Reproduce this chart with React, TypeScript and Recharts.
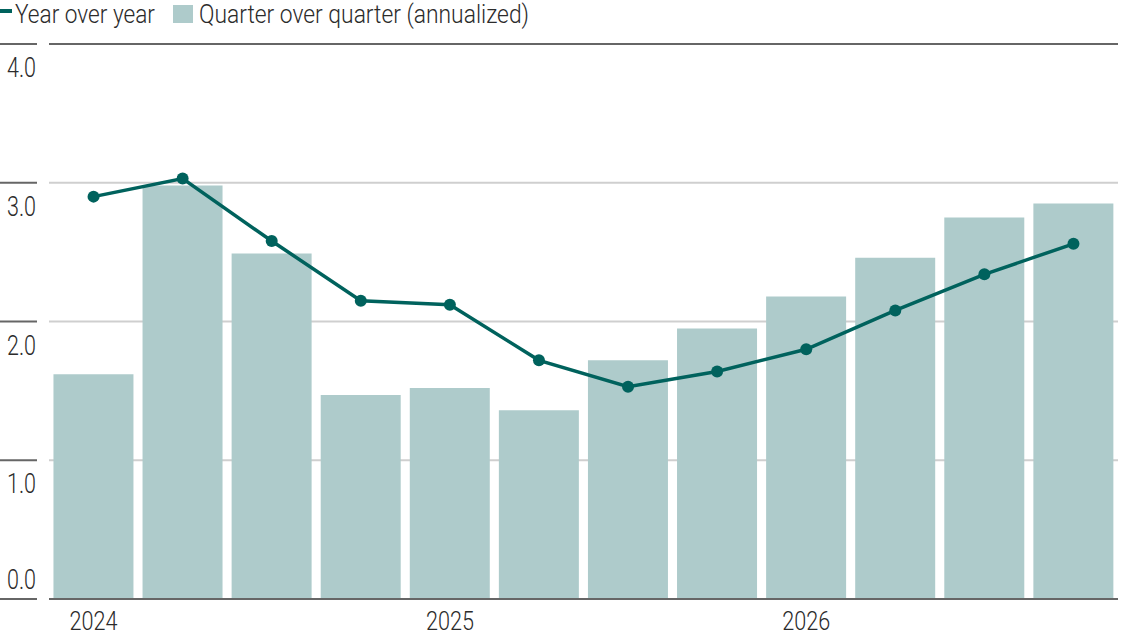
import { Bar, CartesianGrid, ComposedChart, Legend, Line, ReferenceLine, XAxis, YAxis } from "recharts"

const quarters = [
  "2024 Q1", "2024 Q2", "2024 Q3", "2024 Q4",
  "2025 Q1", "2025 Q2", "2025 Q3", "2025 Q4",
  "2026 Q1", "2026 Q2", "2026 Q3", "2026 Q4",
]
const quarterOverQuarter = [1.62, 2.98, 2.49, 1.47, 1.52, 1.36, 1.72, 1.95, 2.18, 2.46, 2.75, 2.85]
const yearOverYear = [2.9, 3.03, 2.58, 2.15, 2.12, 1.72, 1.53, 1.64, 1.8, 2.08, 2.34, 2.56]
const yTicks = [0, 1, 2, 3, 4]

const chartData = quarters.map((q, i) => ({
  quarter: q,
  qoq: quarterOverQuarter[i],
  yoy: yearOverYear[i],
}))

const FONT = "Roboto, sans-serif"
const TEAL = "#00625d"
const BAR = "#aecbcb"
const TEXT = "#2b2b2b"

function YTick(props: any) {
  const { y, payload } = props
  const v = payload.value as number
  return (
    <g>
      <line x1={0} x2={37} y1={y} y2={y} stroke="#666" strokeWidth={2} />
      <text
        x={36}
        y={v === 0 ? y - 10 : y + 33}
        textAnchor="end"
        fontSize={28}
        fontWeight={300}
        fill={TEXT}
        fontFamily={FONT}
        textLength={29}
        lengthAdjust="spacingAndGlyphs"
      >
        {v.toFixed(1)}
      </text>
    </g>
  )
}

// only the first quarter of each year gets a label
function XTick(props: any) {
  const { x, y, payload } = props
  const label = String(payload.value).split(" ")[0]
  if (!String(payload.value).endsWith("Q1")) return null
  return (
    <text
      x={x}
      y={y + 25}
      textAnchor="middle"
      fontSize={26}
      fontWeight={300}
      fill={TEXT}
      fontFamily={FONT}
      textLength={48}
      lengthAdjust="spacingAndGlyphs"
    >
      {label}
    </text>
  )
}

function renderLegend() {
  return (
    <svg width={1130} height={44} style={{ display: "block" }}>
      <line x1={0} x2={12} y1={11} y2={11} stroke={TEAL} strokeWidth={4} />
      <text
        x={15}
        y={23}
        fontSize={26}
        fontWeight={300}
        fill={TEXT}
        fontFamily={FONT}
        textLength={140}
        lengthAdjust="spacingAndGlyphs"
      >
        Year over year
      </text>
      <rect x={173} y={5} width={20} height={18} fill={BAR} />
      <text
        x={199}
        y={23}
        fontSize={26}
        fontWeight={300}
        fill={TEXT}
        fontFamily={FONT}
        textLength={330}
        lengthAdjust="spacingAndGlyphs"
      >
        Quarter over quarter (annualized)
      </text>
    </svg>
  )
}

export default function App() {
  return (
    <div style={{ position: "absolute", left: 0, top: 0 }}>
      <ComposedChart
        width={1130}
        height={635}
        data={chartData}
        margin={{ top: 0, right: 12, left: 0, bottom: 0 }}
        barCategoryGap="5%"
      >
        <Legend
          verticalAlign="top"
          align="left"
          content={renderLegend}
          wrapperStyle={{ top: 0, left: 0, width: 1130, height: 44 }}
        />
        <CartesianGrid vertical={false} stroke="#cfcfcf" strokeWidth={2} />
        <XAxis
          dataKey="quarter"
          interval={0}
          height={36}
          tickLine={false}
          axisLine={{ stroke: "#666", strokeWidth: 2 }}
          tick={<XTick />}
          tickMargin={0}
        />
        <YAxis
          width={49}
          domain={[0, 4]}
          ticks={yTicks}
          axisLine={false}
          tickLine={false}
          tick={<YTick />}
        />
        <ReferenceLine y={4} stroke="#666" strokeWidth={2} />
        <Bar dataKey="qoq" name="Quarter over quarter (annualized)" fill={BAR} isAnimationActive={false} />
        <Line
          dataKey="yoy"
          name="Year over year"
          stroke={TEAL}
          strokeWidth={3.5}
          dot={{ r: 6, fill: TEAL, stroke: TEAL, strokeWidth: 0 }}
          isAnimationActive={false}
        />
      </ComposedChart>
    </div>
  )
}
